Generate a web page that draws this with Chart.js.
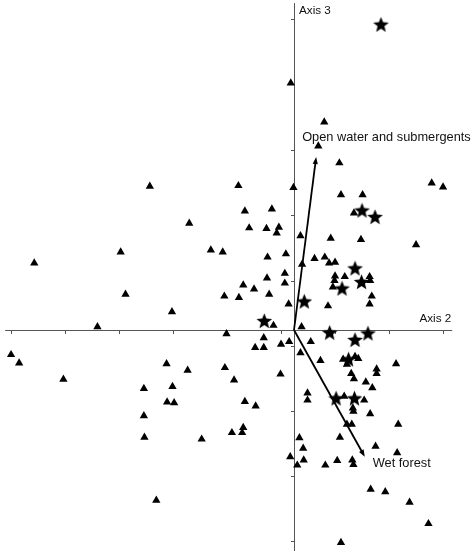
<!DOCTYPE html>
<html>
<head>
<meta charset="utf-8">
<script src="https://cdn.jsdelivr.net/npm/chart.js@4/dist/chart.umd.min.js"></script>
<style>
  html, body { margin: 0; padding: 0; background: #fff; }
  #wrap { width: 474px; height: 551px; }
</style>
</head>
<body>
<div id="wrap"><canvas id="c" width="474" height="551"></canvas></div>
<script>
// site scores, axis 2 (x) and axis 3 (y) -- triangles
const siteX = [-0.06, 0.56, 0.45, 0.84, -2.67, 2.55, 2.76, -1.03, -0.01, 0.87,
  1.27, 1.11, -1.94, -0.91, -0.41, -0.83, -0.51, -0.28, -0.32, 0.12,
  0.68, 1.24, 2.26, -1.54, -1.32, -3.21, -4.81, -0.49, -0.15, 0.15,
  0.38, 0.57, 0.65, 0.76, -0.50, -0.17, -0.17, 0.76, 0.75, 0.94,
  0.72, 1.40, 1.41, 1.44, 1.40, 0.63, -0.94, -0.74, -0.46, -1.29,
  -1.02, -3.12, -0.10, -2.26, -0.38, 0.14, -3.64, -5.24, -5.09, -1.25,
  -0.56, 0.31, -0.09, -0.24, -0.72, -0.56, 0.12, -2.36, -1.97, -1.28,
  0.49, 0.91, 0.98, 1.13, 1.19, 1.89, 1.53, 1.53, 1.06, 1.11,
  -0.25, -1.11, 1.33, 1.45, -2.25, -4.27, -2.78, 0.25, 0.25, 0.93,
  1.30, -2.35, -2.22, -0.91, -0.71, 1.09, 1.10, 1.41, -2.78, 0.98,
  1.07, 1.93, -1.15, -0.96, -0.94, -2.77, -1.71, 0.10, 0.85, 1.51,
  0.17, 1.91, -0.07, 0.18, 0.06, 0.58, 0.80, 1.08, 1.10, 1.42,
  1.69, 2.14, 2.49, -2.55, 0.87];
const siteY = [3.80, 3.20, 2.83, 2.57, 2.21, 2.26, 2.20, 2.22, 2.19, 2.08,
  2.08, 1.80, 1.64, 1.83, 1.86, 1.57, 1.56, 1.58, 1.49, 1.45,
  1.41, 1.39, 1.31, 1.23, 1.20, 1.20, 1.03, 1.12, 1.17, 1.01,
  1.10, 1.12, 1.03, 1.04, 0.80, 0.87, 0.72, 0.83, 0.76, 0.82,
  0.66, 0.82, 0.76, 0.52, 0.40, 0.37, 0.69, 0.63, 0.55, 0.52,
  0.50, 0.55, 0.40, 0.28, 0.07, 0.05, 0.05, -0.38, -0.51, -0.06,
  -0.12, -0.18, -0.18, -0.22, -0.27, -0.27, -0.35, -0.52, -0.62, -0.58,
  -0.47, -0.45, -0.53, -0.41, -0.44, -0.52, -0.60, -0.67, -0.67, -0.75,
  -0.68, -0.77, -0.80, -0.89, -0.87, -0.76, -0.90, -0.97, -1.08, -1.02,
  -1.08, -1.11, -1.12, -1.10, -1.17, -1.20, -1.25, -1.29, -1.32, -1.45,
  -1.45, -1.45, -1.58, -1.58, -1.50, -1.65, -1.68, -1.66, -1.65, -1.79,
  -1.82, -1.89, -1.95, -2.00, -2.08, -2.08, -2.01, -2.00, -2.07, -2.45,
  -2.49, -2.65, -2.98, -2.62, -3.27];

// reference sites -- stars
const refX = [1.61, 1.26, 1.50, 0.19, -0.55, 1.13, 0.89, 1.25, 0.66, 1.37, 1.13, 1.01, 0.78, 1.12];
const refY = [4.69, 1.83, 1.73, 0.43, 0.13, 0.94, 0.63, 0.73, -0.05, -0.06, -0.16, -0.46, -1.06, -1.06];

// environmental vectors
const envNames = ['Open water and submergents', 'Wet forest'];
const envX = [0.41, 1.31];
const envY = [2.66, -1.95];

// tick marks along the axes
const xTicks = [-5.24, -4.24, -3.24, -2.24, -1.24, -0.24, 0.76, 1.76, 2.76];
const yTicks = [4.78, 3.78, 2.77, 1.77, 0.76, -0.24, -1.25, -2.25, -3.25];
const axisNames = ['Axis 2', 'Axis 3'];

const FONT = "'Liberation Sans', Arial, sans-serif";

// filled five-point star for the reference sites
function makeStar(rOut, rIn) {
  const s = Math.ceil(rOut * 2 + 2);
  const cv = document.createElement('canvas');
  cv.width = s; cv.height = s;
  const g = cv.getContext('2d');
  g.fillStyle = '#000';
  g.beginPath();
  for (let i = 0; i < 10; i++) {
    const r = i % 2 ? rIn : rOut;
    const a = -Math.PI / 2 + i * Math.PI / 5;
    const px = s / 2 + r * Math.cos(a), py = s / 2 + r * Math.sin(a);
    i ? g.lineTo(px, py) : g.moveTo(px, py);
  }
  g.closePath();
  g.fill();
  return cv;
}

const ordAxes = {
  id: 'ordAxes',
  beforeDatasetsDraw(chart) {
    const ctx = chart.ctx;
    const xs = chart.scales.x, ys = chart.scales.y;
    const x0 = xs.getPixelForValue(0), y0 = ys.getPixelForValue(0);
    const left = xs.getPixelForValue(-5.35), right = xs.getPixelForValue(2.93);
    const top = ys.getPixelForValue(5.03), bottom = ys.getPixelForValue(-3.4);
    ctx.save();
    ctx.strokeStyle = '#555';
    ctx.lineWidth = 1;
    ctx.beginPath();
    ctx.moveTo(left, y0 + 0.5); ctx.lineTo(right, y0 + 0.5);
    ctx.moveTo(x0 + 0.5, top); ctx.lineTo(x0 + 0.5, bottom);
    xTicks.forEach(v => {
      const p = Math.round(xs.getPixelForValue(v)) + 0.5;
      ctx.moveTo(p, y0); ctx.lineTo(p, y0 + 4);
    });
    yTicks.forEach(v => {
      const p = Math.round(ys.getPixelForValue(v)) + 0.5;
      ctx.moveTo(x0 - 3, p); ctx.lineTo(x0 + 1, p);
    });
    ctx.stroke();

    // vectors
    ctx.strokeStyle = '#000';
    ctx.fillStyle = '#000';
    ctx.lineWidth = 1.8;
    envX.forEach((ex, i) => {
      const tx = xs.getPixelForValue(ex), ty = ys.getPixelForValue(envY[i]);
      const ang = Math.atan2(ty - y0, tx - x0);
      ctx.beginPath();
      ctx.moveTo(x0, y0);
      ctx.lineTo(tx - 4 * Math.cos(ang), ty - 4 * Math.sin(ang));
      ctx.stroke();
      ctx.beginPath();
      ctx.moveTo(tx, ty);
      ctx.lineTo(tx - 7 * Math.cos(ang) + 2.6 * Math.sin(ang), ty - 7 * Math.sin(ang) - 2.6 * Math.cos(ang));
      ctx.lineTo(tx - 7 * Math.cos(ang) - 2.6 * Math.sin(ang), ty - 7 * Math.sin(ang) + 2.6 * Math.cos(ang));
      ctx.closePath();
      ctx.fill();
    });
    ctx.restore();
  },
  afterDatasetsDraw(chart) {
    const ctx = chart.ctx;
    const xs = chart.scales.x, ys = chart.scales.y;
    const x0 = xs.getPixelForValue(0), y0 = ys.getPixelForValue(0);
    ctx.save();
    ctx.fillStyle = '#111';
    ctx.textBaseline = 'middle';
    ctx.font = '11.7px ' + FONT;
    ctx.textAlign = 'right';
    ctx.fillText(axisNames[0], xs.getPixelForValue(2.93) - 1, y0 - 11);
    ctx.textAlign = 'left';
    ctx.fillText(axisNames[1], x0 + 5, ys.getPixelForValue(5.03) + 8);
    ctx.font = '12.8px ' + FONT;
    const t1x = xs.getPixelForValue(envX[0]), t1y = ys.getPixelForValue(envY[0]);
    ctx.fillText(envNames[0], t1x - 14, t1y - 20);
    const t2x = xs.getPixelForValue(envX[1]), t2y = ys.getPixelForValue(envY[1]);
    ctx.fillText(envNames[1], t2x + 8, t2y + 7);
    ctx.restore();
  }
};

const toPts = (xa, ya) => xa.map((v, i) => ({ x: v, y: ya[i] }));

new Chart(document.getElementById('c'), {
  type: 'scatter',
  data: {
    datasets: [
      {
        label: 'Sites',
        data: toPts(siteX, siteY),
        pointStyle: 'triangle',
        pointRadius: 4.8,
        backgroundColor: '#000',
        borderWidth: 0
      },
      {
        label: 'Reference',
        data: toPts(refX, refY),
        pointStyle: makeStar(8.2, 3.6),
        pointRadius: 7,
        backgroundColor: '#000',
        borderWidth: 0
      }
    ]
  },
  options: {
    responsive: false,
    animation: false,
    devicePixelRatio: 1,
    events: [],
    layout: { padding: 0, autoPadding: false },
    plugins: { legend: { display: false }, tooltip: { enabled: false } },
    scales: {
      x: { type: 'linear', min: -5.4444, max: 3.3333, display: false },
      y: { type: 'linear', min: -3.4, max: 5.0769, display: false }
    }
  },
  plugins: [ordAxes]
});
</script>
</body>
</html>
